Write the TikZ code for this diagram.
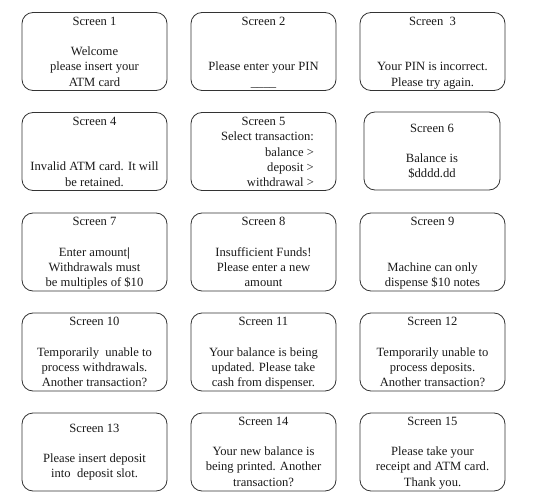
\documentclass[tikz,border=0pt]{standalone}
\usepackage{fontspec}
\setmainfont{Liberation Serif}
\usepackage{tikz}
\def\lsk{15.25pt}
\def\lskk{30.5pt}
\tikzset{
  screen/.style={draw=black!80, line width=0.8pt, rounded corners=11pt,
    minimum width=145pt, minimum height=78pt, inner sep=0pt},
  msg/.style={align=center, inner sep=0pt, anchor=north, text=black!90,
    font=\fontsize{12.6}{15.25}\selectfont}
}

\begin{document}
\begin{tikzpicture}[x=1pt,y=-1pt]
\useasboundingbox (0,0) rectangle (535,497);
% row 1
\node[screen] (s1) at (94.5,51.5) {};
\node[msg] (m1) at ([yshift=-4.5pt]s1.north) {Screen 1\\[\lsk]Welcome\\please insert your\\ATM card};
\node[screen] (s2) at (263.5,51.5) {};
\node[msg] (m2) at ([yshift=-4.5pt]s2.north) {Screen 2\\[\lskk]Please enter your PIN\\\_\_\_\_};
\node[screen] (s3) at (432.5,51.5) {};
\node[msg] (m3) at ([yshift=-4.5pt]s3.north) {Screen\ \ 3\\[\lskk]Your PIN is incorrect.\\Please try again.};
% row 2
\node[screen] (s4) at (94.5,151.5) {};
\node[msg] (m4) at ([yshift=-4.5pt]s4.north) {Screen 4\\[\lskk]Invalid ATM card. It will\\be retained.};
\node[screen] (s5) at (263.5,151.5) {};
\node[msg] (m5) at ([yshift=-4.5pt]s5.north) {Screen 5};
\node[msg, align=right] (m5b) at ([xshift=4pt]m5.south |- 0,132) {Select transaction:\\balance >\\deposit >\\withdrawal >};
\node[screen, minimum width=136pt] (s6) at (432,151) {};
\node[msg] (m6) at ([yshift=-12pt]s6.north) {Screen 6\\[\lsk]Balance is\\\$dddd.dd};
% row 3
\node[screen] (s7) at (94.5,252) {};
\node[msg] (m7) at ([yshift=-4.5pt]s7.north) {Screen 7\\[\lsk]Enter amount\textbf{|}\\Withdrawals must\\be multiples of \$10};
\node[screen] (s8) at (263.5,252) {};
\node[msg] (m8) at ([yshift=-4.5pt]s8.north) {Screen 8\\[\lsk]Insufficient Funds!\\Please enter a new\\amount};
\node[screen] (s9) at (432.5,252) {};
\node[msg] (m9) at ([yshift=-4.5pt]s9.north) {Screen 9\\[\lskk]Machine can only\\dispense \$10 notes};
% row 4
\node[screen] (s10) at (94.5,352) {};
\node[msg] (m10) at ([yshift=-4.5pt]s10.north) {Screen 10\\[\lsk]Temporarily\ \ unable to\\process withdrawals.\\Another transaction?};
\node[screen] (s11) at (263.5,352) {};
\node[msg] (m11) at ([yshift=-4.5pt]s11.north) {Screen 11\\[\lsk]Your balance is being\\updated. Please take\\cash from dispenser.};
\node[screen] (s12) at (432.5,352) {};
\node[msg] (m12) at ([yshift=-4.5pt]s12.north) {Screen 12\\[\lsk]Temporarily unable to\\process deposits.\\Another transaction?};
% row 5
\node[screen] (s13) at (94.5,452) {};
\node[msg] (m13) at ([yshift=-11pt]s13.north) {Screen 13\\[\lsk]Please insert deposit\\into\ \ deposit slot.};
\node[screen] (s14) at (263.5,452) {};
\node[msg] (m14) at ([yshift=-4pt]s14.north) {Screen 14\\[\lsk]Your new balance is\\being printed. Another\\transaction?};
\node[screen] (s15) at (432.5,452) {};
\node[msg] (m15) at ([yshift=-4pt]s15.north) {Screen 15\\[\lsk]Please take your\\receipt and ATM card.\\Thank you.};
\end{tikzpicture}
\end{document}
